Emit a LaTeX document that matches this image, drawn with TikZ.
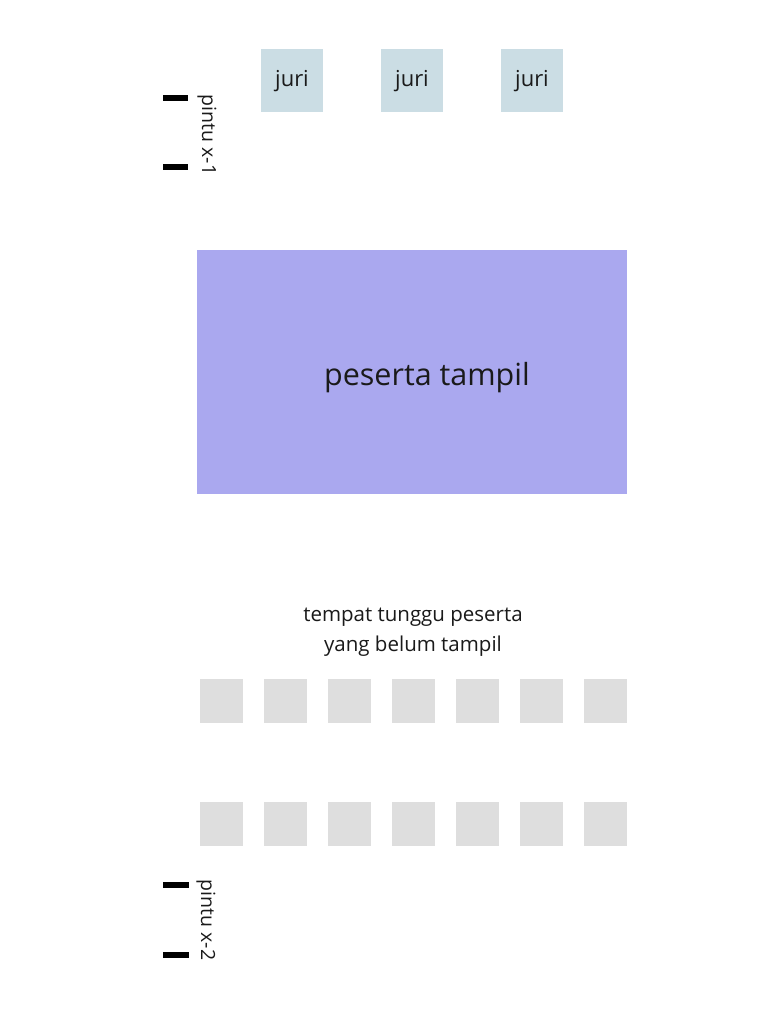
\documentclass[tikz,border=0pt]{standalone}
\usepackage{fontspec}
\setmainfont{Open Sans}
\usetikzlibrary{matrix,positioning}

\definecolor{jurifill}{HTML}{CBDDE4}
\definecolor{stagefill}{HTML}{AAA8EF}
\definecolor{seatfill}{HTML}{DEDEDE}
\definecolor{inkcol}{HTML}{1A1A1A}

\begin{document}
\begin{tikzpicture}[x=1pt,y=-1pt,
  jurinode/.style={fill=jurifill,minimum width=62pt,minimum height=63pt,inner sep=0pt,font=\fontsize{22}{24}\selectfont,text=inkcol},
  seatnode/.style={fill=seatfill,minimum width=43pt,minimum height=44pt,inner sep=0pt},
  door/.style={line width=6pt,black},
  doorlabel/.style={rotate=-90,font=\fontsize{19.5}{22}\selectfont,text=inkcol}]
  \useasboundingbox[fill=white] (0,0) rectangle (768,1024);
  % meja juri
  \matrix (juri) at (412,81) [matrix of nodes, nodes={jurinode}, column sep=58pt, inner sep=0pt]{
	juri & juri & juri \\
  };
  % pintu atas
  \draw[door] (163,98) -- (188,98);
  \draw[door] (163,167) -- (188,167);
  \node[doorlabel] (pintu1) at (207,135) {pintu x-1};
  % panggung
  \node[fill=stagefill,minimum width=430pt,minimum height=244pt] (stage) at (412,372) {};
  \node[font=\fontsize{30.5}{32}\selectfont,text=inkcol] (stagetext) at ([xshift=15pt,yshift=-6pt]stage.center) {peserta tampil};
  % tempat tunggu
  \node[align=center,font=\fontsize{20.5}{30}\selectfont,text=inkcol] (wait) at (413,632) {tempat tunggu peserta\\yang belum tampil};
  \matrix (seats) at (413.5,762.5) [matrix of nodes, nodes in empty cells, nodes={seatnode}, column sep=21pt, row sep=79pt, inner sep=0pt]{
	 & & & & & & \\
	 & & & & & & \\
  };
  % pintu bawah
  \draw[door] (163,885) -- (189,885);
  \draw[door] (163,955) -- (189,955);
  \node[doorlabel] (pintu2) at (206,920) {pintu x-2};
\end{tikzpicture}
\end{document}
